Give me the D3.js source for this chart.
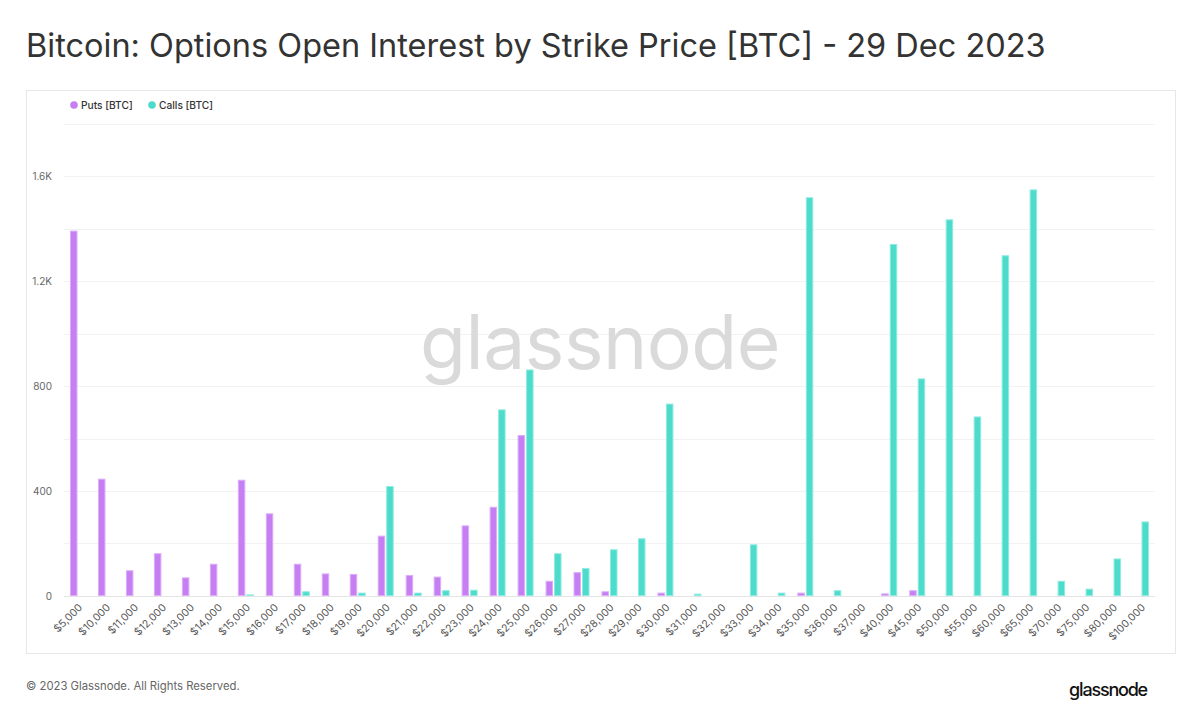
<!DOCTYPE html>
<html>
<head>
<meta charset="utf-8">
<script src="https://cdn.jsdelivr.net/npm/d3@7"></script>
<style>
  html, body { margin: 0; padding: 0; background: #fff; }
  svg { display: block; font-family: Inter, "Noto Sans", sans-serif; }
</style>
</head>
<body>
<svg id="chart" width="1200" height="725"></svg>
<script>
const strikes = ["$5,000","$10,000","$11,000","$12,000","$13,000","$14,000","$15,000","$16,000","$17,000","$18,000","$19,000","$20,000","$21,000","$22,000","$23,000","$24,000","$25,000","$26,000","$27,000","$28,000","$29,000","$30,000","$31,000","$32,000","$33,000","$34,000","$35,000","$36,000","$37,000","$40,000","$45,000","$50,000","$55,000","$60,000","$65,000","$70,000","$75,000","$80,000","$100,000"];
const puts   = [1392,447,98,163,71,123,443,315,123,86,84,230,80,74,269,340,613,58,91,18,0,13,0,0,0,0,13,0,0,10,22,0,0,0,0,0,0,0,0];
const calls  = [0,0,0,0,3,0,6,0,18,0,13,419,13,22,24,711,863,163,107,178,220,733,9,0,197,13,1519,22,3,1341,829,1435,684,1298,1549,58,28,143,284];
const yTicks = [0,400,800,1200,1600];
const yGrid  = [0,200,400,600,800,1000,1200,1400,1600,1800];
const seriesKeys = ["puts","calls"];
const seriesNames = ["Puts [BTC]","Calls [BTC]"];
const seriesFill = {puts:"#c57ff3", calls:"#4ddbcc"};
const seriesStroke = {puts:"#dcadf8", calls:"#8eebe1"};

(function(){
const svg = d3.select("#chart");

// title
svg.append("text").attr("x",26).attr("y",57)
  .attr("font-size",32.5).attr("fill","#333").attr("font-weight",400)
  .text("Bitcoin: Options Open Interest by Strike Price [BTC] - 29 Dec 2023");

// card
svg.append("rect").attr("x",26.5).attr("y",90.5).attr("width",1149).attr("height",563)
  .attr("fill","#fff").attr("stroke","#e8e8e8");

const pLeft = 64, pRight = 1155, pTop = 123.5, pBottom = 596;
const x = d3.scaleBand().domain(strikes).range([pLeft,pRight]).paddingInner(0).paddingOuter(0);
const x1 = d3.scaleBand().domain(seriesKeys).range([0,x.bandwidth()]).paddingInner(0.118).paddingOuter(0.706);
const y = d3.scaleLinear().domain([0,1800]).range([pBottom,pTop]);

// grid
svg.append("g").selectAll("line").data(yGrid).join("line")
  .attr("x1",pLeft).attr("x2",pRight)
  .attr("y1",d=>Math.round(y(d))+0.5).attr("y2",d=>Math.round(y(d))+0.5)
  .attr("stroke",d=>d===0?"#e4e4e4":"#f2f2f2").attr("stroke-width",1);

// watermark
svg.append("text").attr("x",600).attr("y",369).attr("text-anchor","middle")
  .attr("font-size",75).attr("fill","#dadada").attr("font-weight",400)
  .attr("letter-spacing","-0.5")
  .text("glassnode");

// y axis
const yAxis = d3.axisLeft(y).tickValues(yTicks).tickSize(0).tickPadding(12)
  .tickFormat(d => d >= 1000 ? (d/1000).toFixed(1)+"K" : d);
const ya = svg.append("g").attr("transform",`translate(${pLeft},0)`).call(yAxis);
ya.select(".domain").remove();
ya.selectAll("text").attr("font-size",10).attr("fill","#666").attr("font-family","Inter, sans-serif");

// bars
const rows = strikes.map((s,i)=>({strike:s, puts:puts[i], calls:calls[i]}));
const g = svg.append("g");
g.selectAll("g").data(rows).join("g")
  .attr("transform",d=>`translate(${x(d.strike)},0)`)
  .selectAll("rect")
  .data(d=>seriesKeys.map(k=>({key:k, value:d[k]})).filter(e=>e.value>0))
  .join("rect")
  .attr("x",d=>x1(d.key)+0.5)
  .attr("width",x1.bandwidth()-1)
  .attr("y",d=>y(d.value)+0.5)
  .attr("height",d=>Math.max(0,pBottom-y(d.value)-1))
  .attr("fill",d=>seriesFill[d.key])
  .attr("stroke",d=>seriesStroke[d.key])
  .attr("stroke-width",1);

// x axis
const xAxis = d3.axisBottom(x).tickSize(0).tickPadding(0);
const xa = svg.append("g").attr("transform",`translate(0,${pBottom})`).call(xAxis);
xa.select(".domain").remove();
xa.selectAll("text")
  .attr("font-size",10.5).attr("fill","#555").attr("font-family","Inter, sans-serif")
  .attr("text-anchor","end").attr("dy",null).attr("y",0)
  .attr("transform","translate(3,10) rotate(-45)")
  .attr("dominant-baseline","middle");

// legend
const lg = svg.append("g").attr("transform","translate(74,105)");
const items = lg.selectAll("g").data(seriesKeys).join("g")
  .attr("transform",(d,i)=>`translate(${i*78},0)`);
items.append("circle").attr("r",3.8).attr("cx",0).attr("cy",0).attr("fill",d=>seriesFill[d]);
items.append("text").attr("x",7).attr("y",0).attr("dy","0.35em")
  .attr("font-size",10.2).attr("fill","#333").attr("font-weight",500)
  .text((d,i)=>seriesNames[i]);

// footer
svg.append("text").attr("x",26).attr("y",690).attr("font-size",11.3).attr("fill","#666")
  .text("© 2023 Glassnode. All Rights Reserved.");
svg.append("text").attr("x",1147).attr("y",696).attr("text-anchor","end")
  .attr("font-size",18).attr("fill","#111").attr("font-weight",500)
  .attr("letter-spacing","-1.2")
  .text("glassnode");
})();
</script>
</body>
</html>
